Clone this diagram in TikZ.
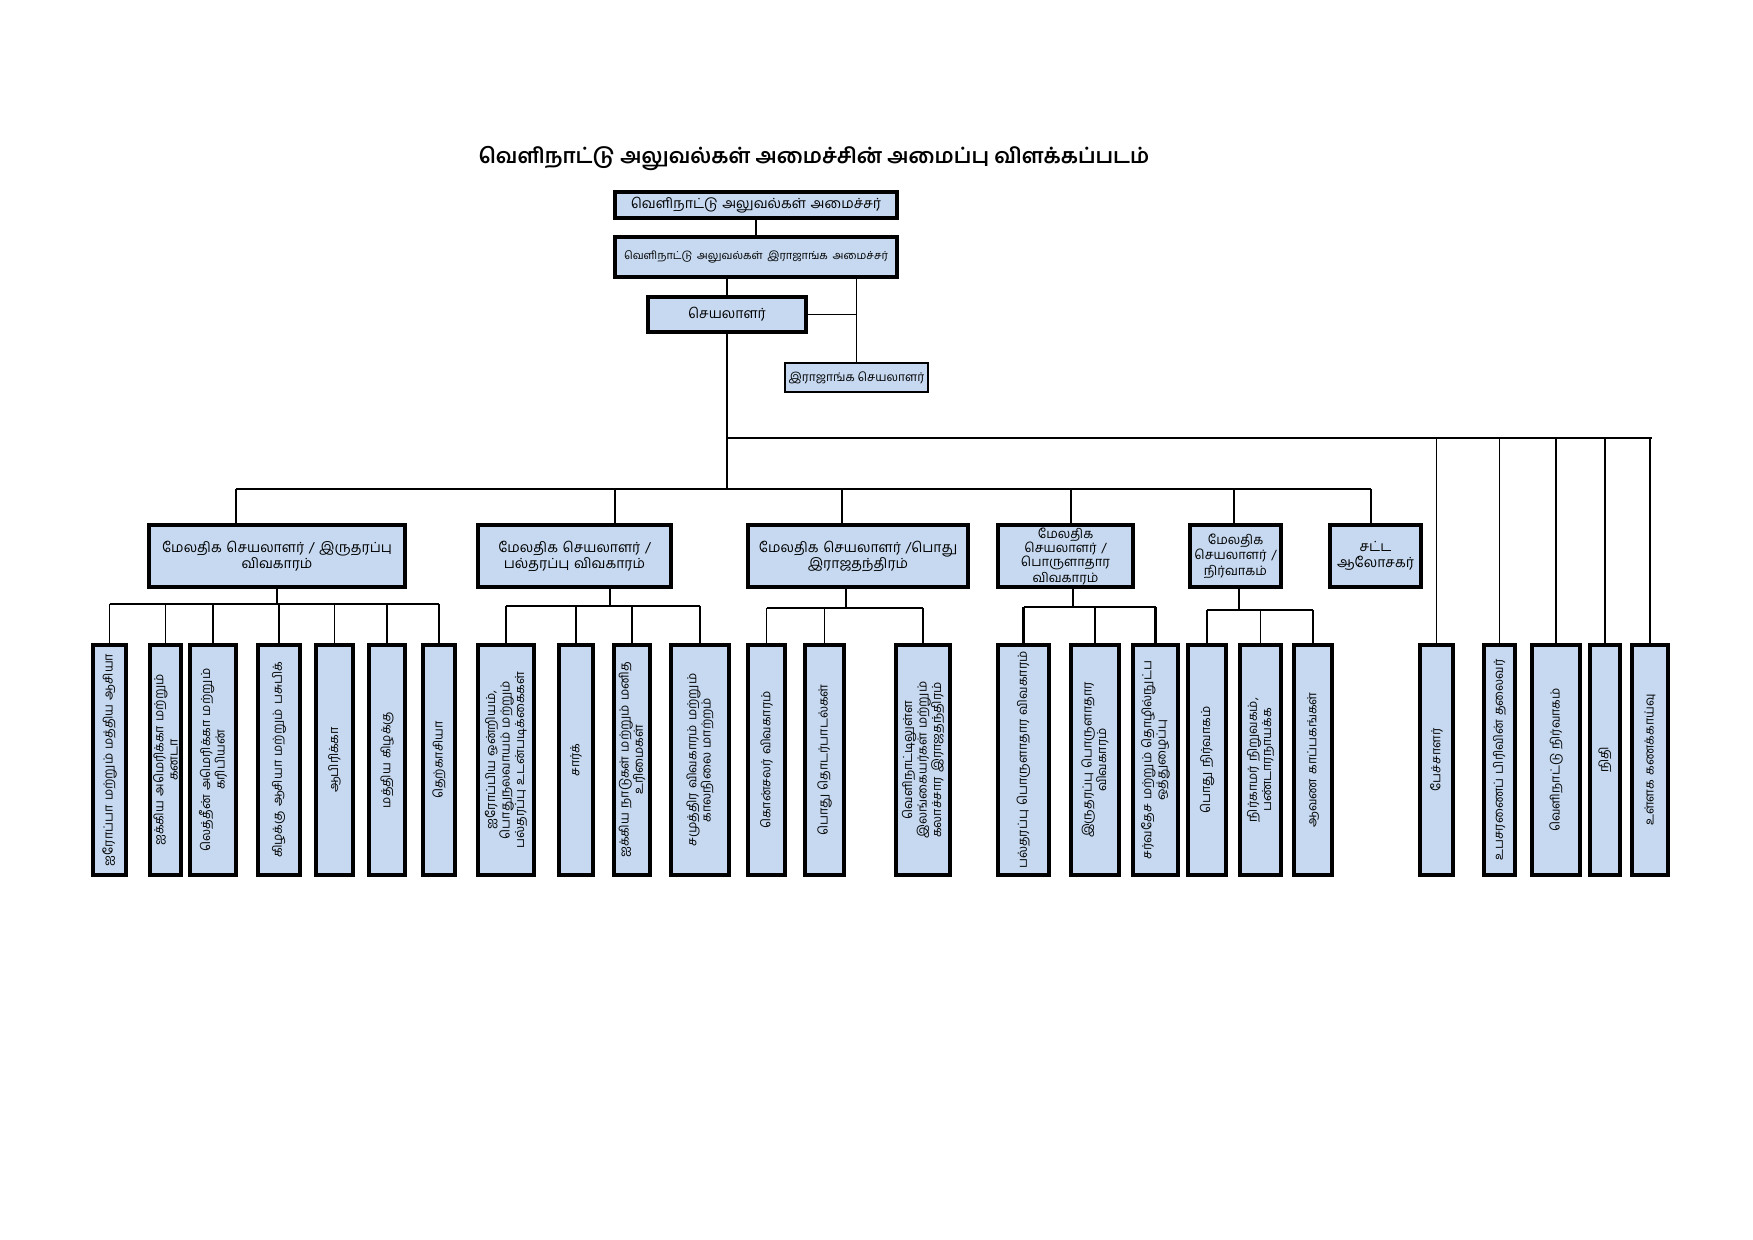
\documentclass[tikz,border=0pt]{standalone}
\usepackage{fontspec}
\setmainfont[Script=Tamil]{Hind Madurai}
\definecolor{bx}{HTML}{C6D9F0}
\tikzset{
  bx/.style={draw, line width=1.8pt, fill=bx, inner sep=1pt, align=center, font=\fontsize{7}{8}\selectfont},
  vb/.style={bx, rotate=90, minimum width=115pt, text width=112pt, font=\fontsize{6.3}{7.2}\selectfont},
  ln/.style={line width=0.7pt},
  lnb/.style={line width=1.3pt}
}
\newcommand\vbx[4]{\node[vb, minimum height={(#3-#2)*0.5pt}] (#1) at ({(#2+#3)/2},760) {#4};}
\newcommand\mbx[6]{\node[bx, minimum width={(#3-#2)*0.5pt}, minimum height={(#5-#4)*0.5pt}, text width={(#3-#2)*0.5pt-3pt}] (#1) at ({(#2+#3)/2},{(#4+#5)/2}) {#6};}
\begin{document}
\begin{tikzpicture}[x=0.5pt,y=-0.5pt]
\useasboundingbox (0,0) rectangle (1753,1240);
\node[font=\bfseries\fontsize{10.5}{12}\selectfont] (title) at (814,159) {வெளிநாட்டு அலுவல்கள் அமைச்சின் அமைப்பு விளக்கப்படம்};
\mbx{min}{615}{897}{192}{218}{வெளிநாட்டு அலுவல்கள் அமைச்சர்}
\mbx{smin}{615}{897}{237}{277}{\fontsize{5.5}{6.5}\selectfont வெளிநாட்டு அலுவல்கள் இராஜாங்க அமைச்சர்}
\mbx{sec}{648}{806}{297}{332}{செயலாளர்}
\node[bx, line width=1.2pt, minimum width=71.5pt, minimum height=14.5pt] (ssec) at (856.5,377.5) {\fontsize{6}{7}\selectfont இராஜாங்க செயலாளர்};
\draw[ln] (min) -- (smin);
\draw[ln] (smin.south -| sec) -- (sec);
\draw[ln] (smin.south -| ssec) -- (ssec);
\draw[ln] (sec.east) -- (sec.east -| ssec);
\coordinate (h1) at (727,438);
\coordinate (h2) at (727,489);
\draw[ln] (sec.south -| h2) -- (h2);
% mid boxes
\mbx{A}{149}{405}{525}{587}{மேலதிக செயலாளர் / இருதரப்பு\\விவகாரம்}
\mbx{B}{478}{671}{525}{587}{மேலதிக செயலாளர் /\\பல்தரப்பு விவகாரம்}
\mbx{C}{748}{968}{525}{587}{மேலதிக செயலாளர் /பொது\\இராஜதந்திரம்}
\mbx{D}{998}{1133}{525}{587}{\fontsize{6.5}{7}\selectfont மேலதிக\\செயலாளர் /\\பொருளாதார\\விவகாரம்}
\mbx{E}{1190}{1281}{525}{587}{\fontsize{6.5}{7.5}\selectfont மேலதிக\\செயலாளர் /\\நிர்வாகம்}
\mbx{F}{1330}{1421}{525}{587}{சட்ட\\ஆலோசகர்}
\draw[ln] (236,489) -- (1371,489);
\foreach \n/\x in {A/236,B/615,C/842,D/1071,E/1234,F/1371} \draw[ln] (\x,489) -- (\n.north -| \x,0);
% bottom boxes
\vbx{a1}{93}{126}{ஐரோப்பா மற்றும் மத்திய ஆசியா}
\vbx{a2}{150}{181}{ஐக்கிய அமெரிக்கா மற்றும்\\கனடா}
\vbx{a3}{190}{236}{லெத்தீன் அமெரிக்கா மற்றும்\\கரிபியன்}
\vbx{a4}{258}{300}{கிழக்கு ஆசியா மற்றும் பசுபிக்}
\vbx{a5}{316}{353}{ஆபிரிக்கா}
\vbx{a6}{369}{405}{மத்திய கிழக்கு}
\vbx{a7}{423}{455}{தெற்காசியா}
\vbx{b1}{478}{534}{ஐரோப்பிய ஒன்றியம்,\\பொதுநலவாயம் மற்றும்\\பல்தரப்பு உடன்படிக்கைகள்}
\vbx{b2}{559}{593}{சார்க்}
\vbx{b3}{614}{650}{ஐக்கிய நாடுகள் மற்றும் மனித\\உரிமைகள்}
\vbx{b4}{671}{729}{சமுத்திர விவகாரம் மற்றும்\\காலநிலை மாற்றம்}
\vbx{c1}{748}{785}{கொன்சலர் விவகாரம்}
\vbx{c2}{805}{844}{பொது தொடர்பாடல்கள்}
\vbx{c3}{896}{950}{வெளிநாட்டிலுள்ள\\இலங்கையர்கள் மற்றும்\\கலாச்சார இராஜதந்திரம்}
\vbx{d1}{998}{1049}{பல்தரப்பு பொருளாதார விவகாரம்}
\vbx{d2}{1071}{1119}{இருதரப்பு பொருளாதார\\விவகாரம்}
\vbx{d3}{1133}{1178}{சர்வதேச மற்றும் தொழில்நுட்ப\\ஒத்துழைப்பு}
\vbx{e1}{1188}{1226}{பொது நிர்வாகம்}
\vbx{e2}{1240}{1281}{நிர்காமர் நிறுவகம், பண்டாரநாயக்க}
\vbx{e3}{1294}{1332}{ஆவண காப்பகங்கள்}
\vbx{r1}{1420}{1453}{பேச்சாளர்}
\vbx{r2}{1484}{1515}{உபசரணைப் பிரிவின் தலைவர்}
\vbx{r3}{1532}{1580}{வெளிநாட்டு நிர்வாகம்}
\vbx{r4}{1590}{1620}{நிதி}
\vbx{r5}{1632}{1668}{உள்ளக கணக்காய்வு}
% buses
\draw[lnb] (A.south -| 277,0) -- (277,604);
\draw[lnb] (a1.east |- 0,604) -- (a7.east |- 0,604);
\foreach \n in {a1,a2,a3,a4,a5,a6,a7} \draw[ln] (\n.east |- 0,604) -- (\n.east);
\draw[lnb] (B.south -| 610,0) -- (610,606);
\draw[lnb] (b1.east |- 0,606) -- (b4.east |- 0,606);
\foreach \n in {b1,b2,b3,b4} \draw[lnb] (\n.east |- 0,606) -- (\n.east);
\draw[ln] (C.south -| 846,0) -- (846,608);
\draw[lnb] (c1.east |- 0,608) -- (c3.east |- 0,608);
\foreach \n in {c1,c2,c3} \draw[ln] (\n.east |- 0,608) -- (\n.east);
\draw[lnb] (D.south -| 1073,0) -- (1073,607);
\draw[lnb] (d1.east |- 0,607) -- (d3.east |- 0,607);
\foreach \n in {d1,d2,d3} \draw[lnb] (\n.east |- 0,607) -- (\n.east);
\draw[ln] (E.south -| 1239,0) -- (1239,610);
\draw[lnb] (e1.east |- 0,610) -- (e3.east |- 0,610);
\foreach \n in {e1,e2,e3} \draw[ln] (\n.east |- 0,610) -- (\n.east);
% right branch
\draw[ln] (h1) -- (1652,438);
\foreach \n in {r1,r2,r3,r4,r5} \draw[ln] (\n.east |- 0,438) -- (\n.east);
\end{tikzpicture}
\end{document}
